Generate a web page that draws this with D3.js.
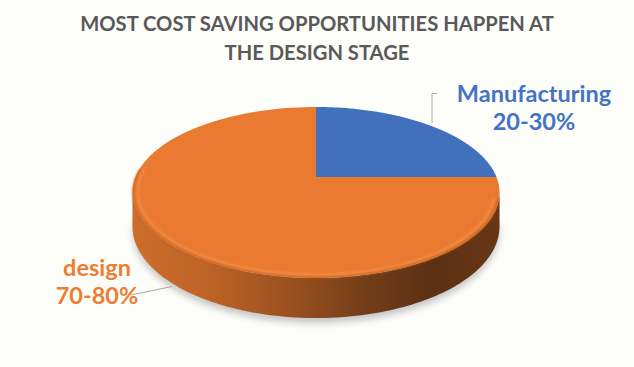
<!DOCTYPE html>
<html>
<head>
<meta charset="utf-8">
<script src="https://cdn.jsdelivr.net/npm/d3@7"></script>
<style>
  html, body { margin: 0; padding: 0; background: #fdfdfa; }
  svg { display: block; }
</style>
</head>
<body>
<svg id="chart" width="634" height="367"></svg>
<script>
// ---- data ----
const titleLines = ["MOST COST SAVING OPPORTUNITIES HAPPEN AT", "THE DESIGN STAGE"];
const categories = ["Manufacturing", "design"];
const values = [25, 75];
const valueLabels = ["20-30%", "70-80%"];
const colors = ["#4170bd", "#e97a30"];
const labelColors = ["#4472c4", "#ed7d31"];

const W = 634, H = 367;
const svg = d3.select("#chart");
svg.append("rect").attr("width", W).attr("height", H).attr("fill", "#fdfdfa");

// ---- perspective projection of the disk ----
const k = 0.181;                  // perspective factor
const cx = 316, cy = 177;         // projected pie centre
const xs = d3.scaleLinear().domain([-1, 1]).range([cx - 180.5, cx + 180.5]);
const ys = d3.scaleLinear().domain([-1, 1]).range([cy - 82.7, cy + 82.7]);
const depth = d3.scaleLinear().domain([0, 1]).range([0, 32.8 / 82.7]); // in v-units

function proj(theta, r, h) {
  const u = r * Math.sin(theta), v = -r * Math.cos(theta);
  const w = 1 - k * v;
  const X = u / w, Y = (v + depth(h)) / w;
  return [xs(X), ys(Y)];
}

const pie = d3.pie().sort(null).value(d => d)(values);

const defs = svg.append("defs");
const blur = defs.append("filter").attr("id", "shadow").attr("x", "-20%").attr("y", "-30%").attr("width", "140%").attr("height", "160%");
blur.append("feGaussianBlur").attr("stdDeviation", 3.5);
const soft = defs.append("filter").attr("id", "soft").attr("x", "-10%").attr("y", "-10%").attr("width", "120%").attr("height", "120%");
soft.append("feGaussianBlur").attr("stdDeviation", 1.0);

const sideGrad = defs.append("linearGradient").attr("id", "sideGrad")
  .attr("gradientUnits", "userSpaceOnUse")
  .attr("x1", xs(-1.02)).attr("x2", xs(1.02)).attr("y1", 0).attr("y2", 0);
[[0, "#cc6d2b"], [0.2, "#bf6427"], [0.45, "#964f1f"], [0.65, "#6f3c18"], [0.82, "#5b3014"], [1, "#693716"]]
  .forEach(([o, c]) => sideGrad.append("stop").attr("offset", o).attr("stop-color", c));

const line = d3.line();
const thetaR = Math.acos(-k), thetaL = 2 * Math.PI - thetaR;
const rimAngles = d3.range(0, 121).map(i => thetaR + (thetaL - thetaR) * i / 120);

// shadow under the pie
const shadowPts = rimAngles.map(t => proj(t, 1.0, 1.05)).concat(rimAngles.slice().reverse().map(t => proj(t, 0.95, 0.2)));
svg.append("path").attr("d", line(shadowPts) + "Z")
  .attr("transform", "translate(0,3)")
  .attr("fill", "#8f8f8f").attr("opacity", 0.5).attr("filter", "url(#shadow)");

// side wall (front, design slice)
const sidePts = rimAngles.map(t => proj(t, 1, 0)).concat(rimAngles.slice().reverse().map(t => proj(t, 1, 1)));
svg.append("path").attr("d", line(sidePts) + "Z").attr("fill", "url(#sideGrad)");

// top faces
pie.forEach((d, i) => {
  const n = 120;
  const pts = [[cx, cy]].concat(d3.range(0, n + 1).map(j => proj(d.startAngle + (d.endAngle - d.startAngle) * j / n, 1, 0)));
  svg.append("path").attr("d", line(pts) + "Z").attr("fill", colors[i]);
});

// bevel: dark edge + light highlight along front rim
const frontArc = d3.range(0, 121).map(i => Math.PI / 2 + 0.25 + (Math.PI * 1.5 + 0.1 - Math.PI / 2 - 0.25) * i / 120);
svg.append("path").attr("d", line(frontArc.map(t => proj(t, 0.997, 0))))
  .attr("fill", "none").attr("stroke", "#b35a20").attr("stroke-width", 1.6).attr("filter", "url(#soft)").attr("opacity", 0.8);
svg.append("path").attr("d", line(frontArc.map(t => proj(t, 0.972, 0))))
  .attr("fill", "none").attr("stroke", "#f79a56").attr("stroke-width", 1.6).attr("filter", "url(#soft)").attr("opacity", 0.85);

// title
svg.append("g").selectAll("text").data(titleLines).join("text")
  .attr("x", 317).attr("y", (d, i) => 31 + i * 29)
  .attr("text-anchor", "middle")
  .attr("font-family", "Lato, 'Open Sans', sans-serif")
  .attr("font-weight", "bold").attr("font-size", 20.2)
  .attr("fill", "#595959")
  .text(d => d);

// leader lines
svg.append("path").attr("d", line([[437, 93.5], [432, 93.5], [432, 123]]))
  .attr("fill", "none").attr("stroke", "#a6a6a6").attr("stroke-width", 1);
svg.append("path").attr("d", line([[131, 295], [172, 286.5]]))
  .attr("fill", "none").attr("stroke", "#a6a6a6").attr("stroke-width", 1);

// labels
const labelPos = [[534, 102], [97, 276]];
categories.forEach((c, i) => {
  const g = svg.append("text")
    .attr("text-anchor", "middle")
    .attr("font-family", "Lato, 'Open Sans', sans-serif")
    .attr("font-weight", "bold").attr("font-size", 23.5)
    .attr("fill", labelColors[i]);
  g.append("tspan").attr("x", labelPos[i][0]).attr("y", labelPos[i][1]).text(c);
  g.append("tspan").attr("x", labelPos[i][0]).attr("y", labelPos[i][1] + 28).text(valueLabels[i]);
});
</script>
</body>
</html>
